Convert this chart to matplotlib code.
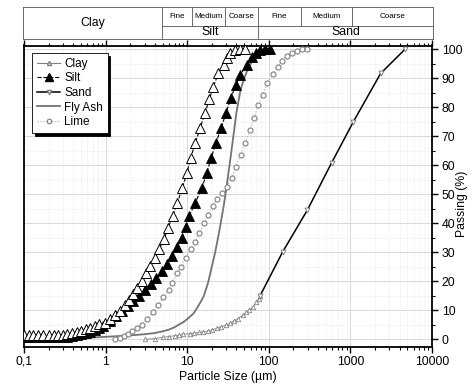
import numpy as np
import matplotlib.pyplot as plt
from matplotlib.lines import Line2D
from matplotlib.ticker import LogLocator, MultipleLocator, FixedLocator, NullFormatter

plt.rcParams["font.family"] = ["Liberation Sans", "DejaVu Sans"]

# particle size (um) and passing (%)
clay_x = [0.10, 0.115, 0.13, 0.15, 0.17, 0.2, 0.23, 0.26, 0.3, 0.34, 0.39, 0.45, 0.5,
          0.57, 0.65, 0.74, 0.84, 0.98, 1.13, 1.3, 1.5, 1.71, 1.95, 2.19, 2.45, 2.77,
          3.12, 3.5, 3.99, 4.48, 5.2, 5.86, 6.63, 7.57, 8.7, 9.9, 11.0, 12.5, 14.4,
          16.5, 18.7, 20.9, 24.1, 28.0, 31.0, 33.5, 38.5, 44.4, 51.0]
clay_y = [1.5, 1.5, 1.5, 1.5, 1.5, 1.5, 1.5, 1.6, 1.7, 1.9, 2.2, 2.6, 3.0,
          3.5, 4.0, 4.6, 5.2, 5.7, 7.0, 8.4, 9.9, 11.8, 13.6, 15.6, 17.9, 20.1,
          22.8, 25.3, 28.0, 31.0, 34.5, 38.5, 42.6, 47.1, 52.1, 57.2, 62.4, 67.6, 72.8,
          78.0, 82.8, 87.1, 91.7, 94.6, 96.9, 98.6, 99.8, 100.0, 100.0]

silt_x = [0.10, 0.115, 0.13, 0.15, 0.17, 0.2, 0.23, 0.26, 0.3, 0.34, 0.39, 0.45, 0.5,
          0.57, 0.65, 0.74, 0.84, 0.94, 1.13, 1.34, 1.57, 1.9, 2.19, 2.59, 3.04, 3.57,
          4.15, 4.87, 5.61, 6.46, 7.57, 8.55, 9.7, 10.6, 12.5, 15.1, 17.3, 19.6, 22.5,
          26.0, 29.9, 34.1, 39.6, 44.4, 53.6, 61.7, 69.7, 78.0, 90.0, 103.0]
silt_y = [0.8, 0.8, 0.8, 0.8, 0.8, 0.8, 0.8, 0.8, 0.9, 1.0, 1.2, 1.5, 1.8,
          2.2, 2.7, 3.3, 4.0, 4.6, 6.4, 8.1, 9.8, 11.5, 13.2, 15.0, 17.0, 19.1,
          21.2, 23.5, 25.9, 28.7, 31.9, 35.0, 38.8, 42.6, 47.0, 52.1, 57.2, 62.4, 67.6,
          72.8, 78.0, 83.1, 87.7, 91.1, 94.6, 97.2, 98.8, 99.8, 100.0, 100.0]

sand_fine_x = [3.0, 4.0, 5.0, 6.0, 7.0, 8.0, 9.0, 10.8, 12.0, 14.0, 15.7, 18.0, 20.0,
               23.0, 26.0, 30.0, 33.0, 37.0, 42.0, 48.0, 53.0, 58.0, 64.0, 70.0, 75.0, 78.0]
sand_fine_y = [0.0, 0.3, 0.7, 1.0, 1.3, 1.5, 1.8, 2.0, 2.2, 2.4, 2.6, 3.0, 3.3,
               3.8, 4.3, 5.0, 5.5, 6.3, 7.2, 8.4, 9.3, 10.3, 11.2, 12.8, 14.0, 15.0]
sand_x = [78.0, 148.0, 297.0, 589.0, 1086.0, 2350.0, 4670.0]
sand_y = [15.0, 30.2, 44.6, 60.9, 75.0, 91.7, 100.0]

flyash_x = [0.1, 0.3, 0.5, 1.0, 2.0, 3.0, 4.0, 5.0, 6.0, 7.0, 8.0, 9.0, 10.0, 12.0,
            13.0, 15.0, 16.0, 18.0, 20.0, 22.0, 25.0, 28.0, 30.0, 33.0, 36.0, 40.0,
            45.0, 50.0, 55.0, 63.0, 71.0, 80.0, 90.0]
flyash_y = [0.0, 0.2, 0.5, 0.9, 1.4, 1.8, 2.2, 2.8, 3.4, 4.2, 5.2, 6.0, 7.0, 9.0,
            10.5, 13.5, 15.0, 19.5, 25.0, 30.0, 38.0, 46.0, 51.5, 60.0, 68.0, 78.0,
            86.0, 90.0, 93.0, 96.0, 97.5, 99.0, 100.0]

lime_x = [1.3, 1.5, 1.7, 1.9, 2.1, 2.4, 2.8, 3.2, 3.8, 4.4, 5.1, 5.9, 6.5, 7.6, 8.5,
          9.6, 11.0, 12.5, 14.0, 16.0, 18.0, 20.5, 23.5, 27.0, 30.5, 35.0, 39.6, 45.0,
          51.0, 59.0, 66.0, 74.0, 84.0, 96.0, 112.0, 128.0, 144.0, 166.0, 191.0,
          220.0, 253.0, 291.0]
lime_y = [0.0, 0.5, 1.1, 2.0, 3.0, 4.0, 5.0, 7.0, 9.5, 11.8, 14.5, 17.0, 19.5, 22.8,
          25.0, 28.0, 31.0, 33.5, 36.6, 40.0, 43.0, 46.0, 48.5, 50.5, 52.5, 55.7, 59.5,
          63.6, 67.6, 72.2, 76.2, 80.8, 84.2, 88.3, 91.4, 94.0, 96.1, 97.7, 98.8,
          99.5, 100.0, 100.0]

x_ticks = [0.1, 1, 10, 100, 1000, 10000]
x_ticklabels = ["0,1", "1", "10", "100", "1000", "10000"]

GRAY = "#7f7f7f"
FLY = "#6f7572"

fig = plt.figure(figsize=(4.74, 3.87), dpi=100)
ax = fig.add_axes([24 / 474, 1 - 346.7 / 387, 408 / 474, 301.2 / 387])

ax.plot(flyash_x, flyash_y, "-", color=FLY, lw=1.3, zorder=3)
ax.plot(lime_x, lime_y, ":", color="#b0b0b0", lw=0.8, marker="o", ms=3.6,
        mfc="white", mec="#8c8c8c", mew=0.9, zorder=3)
ax.plot(sand_fine_x, sand_fine_y, "-", color=GRAY, lw=0.6, marker="^", ms=3.2,
        mfc="white", mec=GRAY, mew=0.6, zorder=3)
ax.plot(sand_x, sand_y, "-", color="black", lw=1.1, marker="v", ms=3.5,
        mfc="white", mec=GRAY, mew=0.7, zorder=4)
ax.plot(silt_x, silt_y, "--", color="black", lw=0.8, marker="^", ms=6.5,
        mfc="black", mec="black", mew=0.6, zorder=4)
ax.plot(clay_x, clay_y, "--", color="black", lw=0.8, marker="^", ms=7,
        mfc="white", mec="black", mew=0.7, zorder=4)

ax.set_xscale("log")
ax.set_xlim(0.1, 10000)
ax.set_ylim(-2.5, 101.3)
ax.xaxis.set_major_locator(FixedLocator(x_ticks))
ax.set_xticklabels(x_ticklabels, fontsize=8.8)
ax.xaxis.set_minor_locator(LogLocator(base=10, subs=np.arange(2, 10)))
ax.xaxis.set_minor_formatter(NullFormatter())
ax.yaxis.set_major_locator(MultipleLocator(10))
ax.yaxis.set_minor_locator(MultipleLocator(5))
ax.yaxis.tick_right()
ax.yaxis.set_label_position("right")
ax.tick_params(axis="x", which="both", direction="out", top=True, bottom=True,
               labeltop=False, pad=2.5)
ax.tick_params(axis="x", which="major", length=4, width=1)
ax.tick_params(axis="x", which="minor", length=2.5, width=0.8)
ax.tick_params(axis="y", which="both", direction="out", left=False, right=True,
               labelsize=8.8, pad=3)
ax.tick_params(axis="y", which="major", length=4, width=1)
ax.tick_params(axis="y", which="minor", length=2.5, width=0.8)
ax.set_yticks(range(0, 101, 10))

ax.grid(which="major", color="#d9d9d9", lw=0.7, ls="-")
ax.grid(which="minor", color="#e0e0e0", lw=0.5, ls=":")
ax.set_axisbelow(True)
for s in ax.spines.values():
    s.set_linewidth(1.3)

ax.set_xlabel("Particle Size (\u00b5m)", fontsize=8.8, va="center")
ax.xaxis.set_label_coords(0.5, -0.1)
ax.set_ylabel("Passing (%)", fontsize=8.8, va="center")
ax.yaxis.set_label_coords(1.074, 0.474)

handles = [
    Line2D([], [], color=GRAY, lw=0.8, marker="^", ms=3, mfc="white", mec=GRAY),
    Line2D([], [], color="black", lw=0.8, ls="--", marker="^", ms=5.5, mfc="black"),
    Line2D([], [], color="black", lw=1.1, marker="v", ms=3, mfc="white", mec=GRAY),
    Line2D([], [], color=FLY, lw=1.3),
    Line2D([], [], color="#b0b0b0", lw=0.8, ls=":", marker="o", ms=3.2,
           mfc="white", mec="#8c8c8c"),
]
leg = ax.legend(handles, ["Clay", "Silt", "Sand", "Fly Ash", "Lime"], loc="upper left",
                bbox_to_anchor=(0.02, 0.975), borderaxespad=0, fontsize=8.5,
                fancybox=False, edgecolor="black", framealpha=1, handlelength=2.0,
                handletextpad=0.3, labelspacing=0.22, borderpad=0.4,
                shadow={"color": "black", "alpha": 1})
leg.get_frame().set_linewidth(0.6)

# classification header table above the axes (figure pixel coordinates)
W, H = 474.0, 387.0


def fx(px):
    return px / W


def fy(py):
    return 1 - py / H


x_left, x_right = 23, 433
y_top, y_mid, y_bot = 7.3, 25.5, 38.5
lines = [
    ((x_left, x_right), (y_top, y_top)),
    ((x_left, x_right), (y_bot, y_bot)),
    ((162, x_right), (y_mid, y_mid)),
    ((x_left, x_left), (y_top, y_bot)),
    ((x_right, x_right), (y_top, y_bot)),
    ((162, 162), (y_top, y_bot)),
    ((258, 258), (y_top, y_bot)),
    ((192, 192), (y_top, y_mid)),
    ((225, 225), (y_top, y_mid)),
    ((301, 301), (y_top, y_mid)),
    ((352, 352), (y_top, y_mid)),
]
for (xa, xb), (ya, yb) in lines:
    fig.add_artist(Line2D([fx(xa), fx(xb)], [fy(ya), fy(yb)], color="#555555", lw=0.6))

top_labels = [("Fine", 177), ("Medium", 208.5), ("Coarse", 241.5),
              ("Fine", 279.5), ("Medium", 326.5), ("Coarse", 392.5)]
for txt, px in top_labels:
    fig.text(fx(px), fy(16.3), txt, fontsize=5.8, ha="center", va="center")
fig.text(fx(92.5), fy(23), "Clay", fontsize=8.8, ha="center", va="center")
fig.text(fx(210), fy(32), "Silt", fontsize=8.8, ha="center", va="center")
fig.text(fx(345.5), fy(32), "Sand", fontsize=8.8, ha="center", va="center")

fig.savefig("out.png", dpi=100)
